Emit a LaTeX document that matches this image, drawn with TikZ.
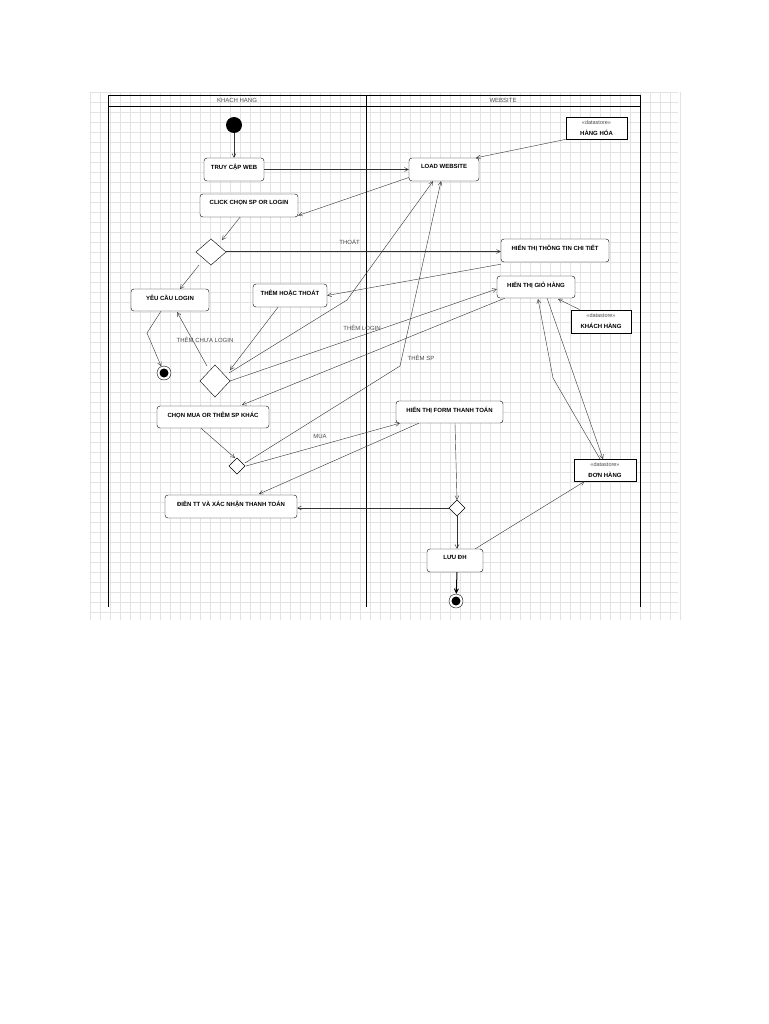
\documentclass[tikz,border=0pt]{standalone}
\usepackage{fontspec}
\setmainfont{Liberation Sans}
\usetikzlibrary{arrows.meta}
\begin{document}
\begin{tikzpicture}[x=1pt,y=-1pt,
  act/.style={draw,rounded corners=3pt,thin,fill=white,inner sep=0pt},
  ds/.style={draw,thick,fill=white,inner sep=0pt},
  dec/.style={draw,thin,fill=white,inner sep=0pt},
  lbl/.style={font=\bfseries\fontsize{6}{7}\selectfont},
  elbl/.style={font=\fontsize{6}{7}\selectfont,text=black!70},
  ar/.style={-{Straight Barb[length=4pt,width=4pt]},thin,draw=black!80}]
\useasboundingbox (0,0) rectangle (768,1024);
\fill[white] (0,0) rectangle (768,1024);
\foreach \x in {90,100,...,680} \draw[black!11,line width=0.4pt] (\x,92) -- (\x,620);
\foreach \y in {92,102,...,620} \draw[black!11,line width=0.4pt] (90,\y) -- (678,\y);
% lanes
\draw[line width=0.9pt] (108,607) -- (108,95) -- (640,95) -- (640,607);
\draw[line width=0.9pt] (366,95) -- (366,607);
\draw[thin] (108,106) -- (640,106);
\node[elbl] at (237,100.5) {KHACH HANG};
\node[elbl] at (503,100.5) {WEBSITE};
% helpers
\newcommand{\actnode}[6]{\node[act,minimum width=#4-#2,minimum height=#5-#3,label={[lbl,anchor=north,yshift=-3pt]north:#6}] (#1) at ({(#2+#4)/2},{(#3+#5)/2}) {};}
\newcommand{\dsnode}[6]{\node[ds,minimum width=#4-#2,minimum height=#5-#3,align=center] (#1) at ({(#2+#4)/2},{(#3+#5)/2}) {\fontsize{5.5}{6}\selectfont\textcolor{black!70}{«datastore»}\\[-1pt]\textbf{\fontsize{6}{7}\selectfont #6}};}
\actnode{truy}{204}{158}{264}{181}{TRUY CẬP WEB}
\actnode{click}{200}{194}{298}{217}{CLICK CHỌN SP OR LOGIN}
\actnode{yeu}{131}{289}{209}{311}{YÊU CẦU LOGIN}
\actnode{them}{253}{284}{327}{307}{THÊM HOẶC THOÁT}
\actnode{chon}{157}{406}{269}{428}{CHỌN MUA OR THÊM SP KHÁC}
\actnode{dien}{165}{495}{297}{518}{ĐIỀN TT VÀ XÁC NHẬN THANH TOÁN}
\actnode{load}{409}{158}{479}{181}{LOAD WEBSITE}
\actnode{chitiet}{501}{239}{609}{262}{HIỂN THỊ THÔNG TIN CHI TIẾT}
\actnode{gio}{497}{276}{575}{298}{HIỂN THỊ GIỎ HÀNG}
\actnode{form}{396}{401}{503}{423}{HIỂN THỊ FORM THANH TOÁN}
\actnode{luu}{427}{549}{483}{572}{LƯU ĐH}
\dsnode{hanghoa}{566}{117}{627}{139}{HÀNG HÓA}
\dsnode{khach}{571}{310}{631}{333}{KHÁCH HÀNG}
\dsnode{don}{574}{459}{636}{481}{ĐƠN HÀNG}
% start/end
\node[circle,fill=black,minimum size=16pt,inner sep=0pt] (start) at (234,125) {};
\node[circle,draw,fill=white,minimum size=14pt,inner sep=0pt] (end1) at (164,373) {};
\fill (end1) circle (4.5pt);
\node[circle,draw,fill=white,minimum size=14pt,inner sep=0pt] (end2) at (456,601) {};
\fill (end2) circle (4.5pt);
% decisions
\draw[dec] (196,252) -- (211,239) -- (226,252) -- (211,265) -- cycle;
\draw[dec] (200,381) -- (215,365) -- (230,381) -- (215,397) -- cycle;
\draw[dec] (229,466) -- (237,458) -- (245,466) -- (237,474) -- cycle;
\draw[dec] (449,508) -- (457,500) -- (465,508) -- (457,516) -- cycle;
% edges
\draw[ar] (start) -- (truy);
\draw[ar] (truy.east) -- (load.west |- truy.east);
\draw[ar] ([yshift=-8pt]load.west) -- ([yshift=-10pt]click.east);
\draw[ar] (hanghoa.south west) -- ([xshift=-3pt]load.north east);
\draw[ar] ([xshift=-9pt]click.south) -- (222,240);
\draw[ar] (226,251.5) -- (chitiet.west |- 0,251.5) node[elbl,pos=0.45,above=3pt] {THOÁT};
\draw[ar] (199,265) -- (180,289);
\draw[ar] ([yshift=-2pt]chitiet.south west) -- (them.east);
\draw[ar] ([xshift=-9pt]yeu.south) -- (147,333) -- (end1);
\draw[ar] (207,366) -- (177,312);
\node[elbl] at (205,340) {THÊM CHƯA LOGIN};
\draw[ar] ([xshift=-12pt]them.south) -- (230,370);
\draw[ar] (229,373) -- (347,300) -- ([xshift=-11pt]load.south);
\draw[ar] (230,381) -- ([yshift=-2pt]gio.west);
\node[elbl] at (362,328) {THÊM LOGIN};
\draw[ar] ([xshift=8pt]gio.south west) -- (242,405);
\draw[ar] ([xshift=-12pt]chon.south) -- (235,458);
\draw[ar] (245,463) -- (400,366) -- ([xshift=-3pt]load.south);
\node[elbl] at (421,358) {THÊM SP};
\draw[ar] (246,466) -- ([xshift=4pt]form.south west);
\node[elbl] at (320,436) {MUA};
\draw[ar] ([xshift=23pt]form.south west) -- (259,494);
\draw[ar] ([xshift=5.5pt]form.south) -- (457,500);
\draw[ar] (449,508) -- (dien.east |- 0,508);
\draw[ar] (457,516) -- (luu.north -| 457,0);
\draw[-{Straight Barb[length=4pt,width=4pt]},line width=1pt] (luu.south -| 457,0) -- (end2);
\draw[ar] ([xshift=-8pt]luu.north east) -- ([xshift=11pt]don.north west |- don.south);
\draw[ar] (600,459) -- (553,378) -- (538,299);
\draw[ar] (547,298) -- (603,459);
\draw[ar] ([xshift=9pt]khach.north west) -- (558,299);
\end{tikzpicture}
\end{document}
